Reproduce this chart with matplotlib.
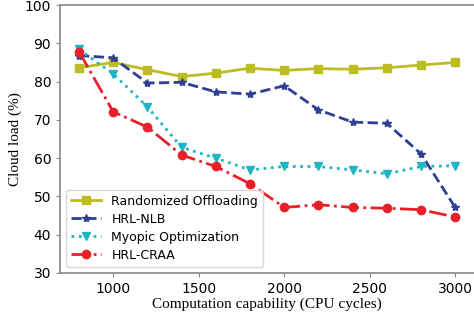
import numpy as np
import matplotlib.pyplot as plt

cpu = [800, 1000, 1200, 1400, 1600, 1800, 2000, 2200, 2400, 2600, 2800, 3000]
randomized = [83.6, 85.0, 83.1, 81.3, 82.2, 83.5, 82.9, 83.4, 83.2, 83.6, 84.3, 85.0]
hrl_nlb = [86.8, 86.2, 79.6, 79.8, 77.3, 76.7, 78.9, 72.6, 69.4, 69.1, 61.1, 47.1]
myopic = [88.4, 82.0, 73.4, 62.8, 60.0, 56.9, 57.8, 57.8, 56.9, 55.9, 57.8, 58.0]
hrl_craa = [87.8, 72.1, 68.1, 60.8, 57.8, 53.3, 47.1, 47.8, 47.1, 46.9, 46.5, 44.6]

fig = plt.figure(figsize=(4.74, 3.34), dpi=100)
ax = fig.add_axes([0.127, 0.183, 0.873, 0.802])

ax.plot(cpu, randomized, '-s', color='#bcbd22', lw=2, ms=6, label='Randomized Offloading')
ax.plot(cpu, hrl_nlb, '--*', color='#2e3f94', lw=2, ms=6, label='HRL-NLB')
ax.plot(cpu, myopic, ':v', color='#1fb5c2', lw=2, ms=6, label='Myopic Optimization')
ax.plot(cpu, hrl_craa, '-.o', color='#e8202a', lw=2, ms=6, label='HRL-CRAA')

ax.set_ylim(30, 100)
ax.set_xticks([1000, 1500, 2000, 2500, 3000])
ax.set_yticks([30, 40, 50, 60, 70, 80, 90, 100])
ax.tick_params(labelsize=10, color='#888888', length=3)
for s in ax.spines.values():
    s.set_color('#888888')
    s.set_linewidth(1.2)
ax.spines['right'].set_visible(False)

ax.set_xlabel('Computation capability (CPU cycles)', family='Liberation Serif', fontsize=11, labelpad=1)
ax.set_ylabel('Cloud load (%)', family='Liberation Serif', fontsize=11, labelpad=2)
ax.legend(loc='lower left', fontsize=9, handlelength=2.4, labelspacing=0.4)

fig.savefig('out.png', dpi=100)
